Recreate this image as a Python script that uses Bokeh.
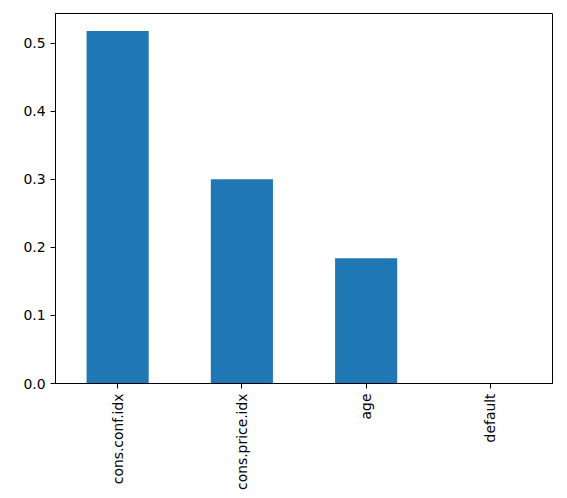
import math
from bokeh.plotting import figure
from bokeh.models import FactorRange, Range1d, FixedTicker, ColumnDataSource
from bokeh.embed import file_html
from bokeh.resources import INLINE

categories = ["cons.conf.idx", "cons.price.idx", "age", "default"]
values = [0.518, 0.3004, 0.1843, 0.0]
y_ticks = [0.0, 0.1, 0.2, 0.3, 0.4, 0.5]
y_tick_labels = ["0.0", "0.1", "0.2", "0.3", "0.4", "0.5"]

source = ColumnDataSource(data=dict(cat=categories, val=values))

p = figure(
    width=567, height=498,
    x_range=FactorRange(factors=categories, range_padding=0),
    y_range=Range1d(0, max(values) * 1.05),
    output_backend="svg", toolbar_location=None,
    min_border_left=55, min_border_right=15, min_border_top=13, min_border_bottom=115,
)
p.vbar(x="cat", top="val", width=0.5, source=source,
       fill_color="#1f77b4", line_color=None)

p.xgrid.visible = False
p.ygrid.visible = False
p.outline_line_color = "black"
p.outline_line_width = 1
p.background_fill_color = "white"
p.border_fill_color = "white"

p.yaxis.ticker = FixedTicker(ticks=y_ticks)
p.yaxis.major_label_overrides = {t: l for t, l in zip(y_ticks, y_tick_labels)}

for ax in (p.xaxis[0], p.yaxis[0]):
    ax.axis_line_color = "black"
    ax.axis_line_width = 1
    ax.major_tick_line_color = "black"
    ax.major_tick_in = 0
    ax.major_tick_out = 5
    ax.minor_tick_line_color = None
    ax.major_label_text_font = "DejaVu Sans"
    ax.major_label_text_font_size = "13.9px"
    ax.major_label_text_color = "black"
    ax.major_label_standoff = 5

p.xaxis.major_label_orientation = math.pi / 2

open("out.html", "w").write(file_html(p, INLINE))
